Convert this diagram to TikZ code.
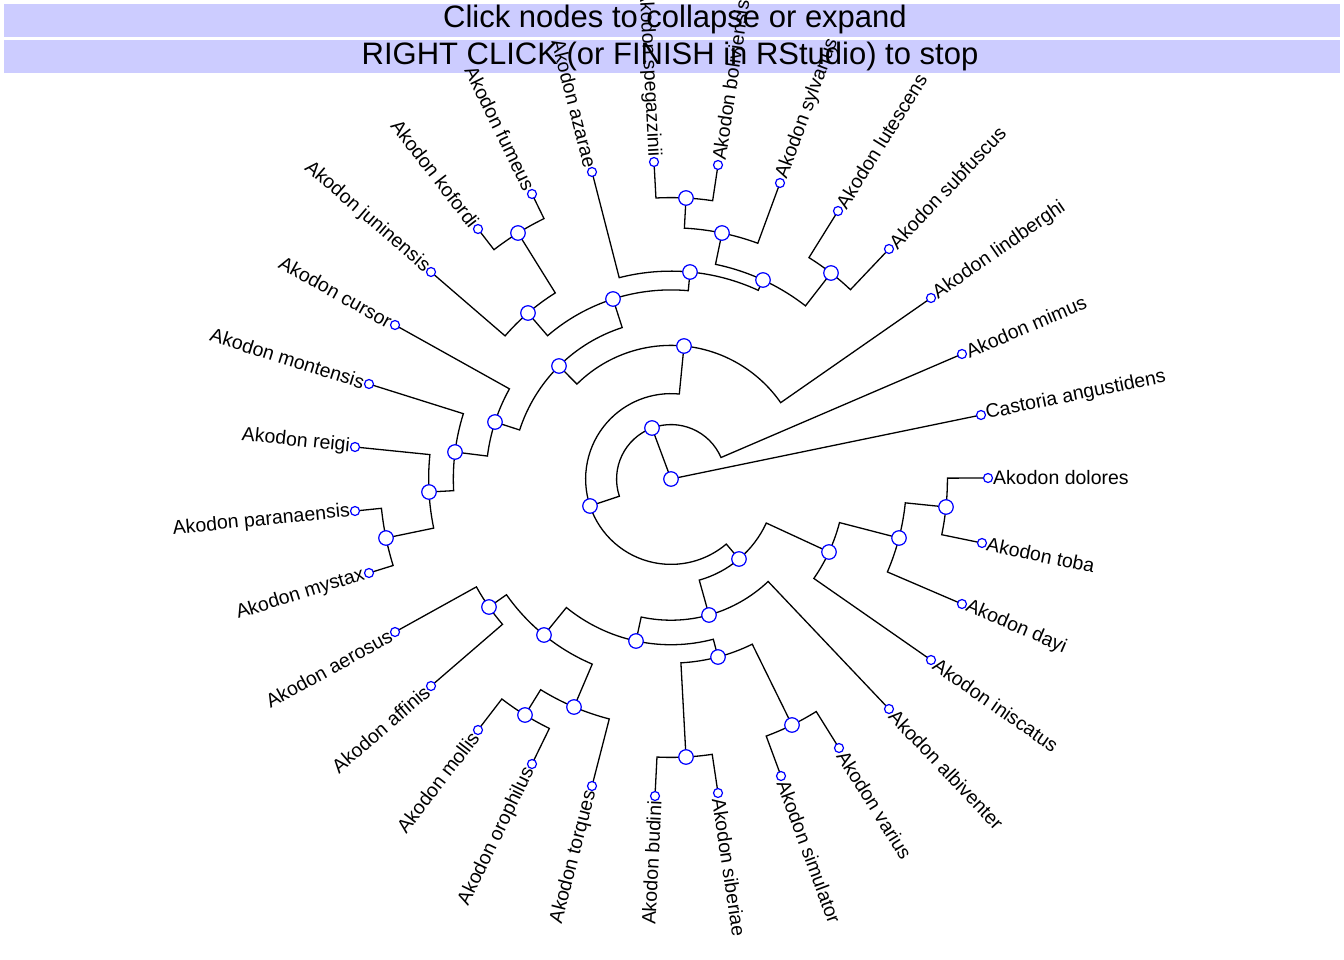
\documentclass[tikz,border=0pt]{standalone}
\usepackage{fontspec}
\setmainfont{Liberation Sans}
\usetikzlibrary{calc}
\definecolor{band}{RGB}{204,204,255}
\tikzset{
  edge/.style={draw=black,line width=1.3pt},
  inode/.style={circle,draw=blue,fill=white,line width=1.2pt,minimum size=14.5pt,inner sep=0pt},
  tnode/.style={circle,draw=blue,fill=white,line width=1.2pt,minimum size=9pt,inner sep=0pt},
  lab/.style={font=\fontsize{19.5}{21}\selectfont,inner sep=5pt}
}
% \edg{parent}{child}
\newcommand\edg[2]{%
  \draw[edge] let \p1=($(#2)-(C)$), \p2=($(#1)-(C)$),
    \n1={atan2(\y1,\x1)}, \n2={atan2(\y2,\x2)}, \n3={veclen(\x2,\y2)},
    \n4={mod(\n1-\n2+540,360)-180} in
    ($(C)+(\n2:\n3)$) arc[start angle=\n2, delta angle=\n4, radius=\n3]
    -- (#2.center);}
\newcommand\tip[4]{%
  \coordinate (#1) at (#2,-#3);
  \pgfmathsetmacro\ang{atan2(479-#3,#2-671)}%
  \pgfmathparse{abs(\ang)>90?1:0}%
  \ifnum\pgfmathresult=1
    \pgfmathsetmacro\rot{\ang-180}%
    \node[lab,anchor=east,rotate=\rot] at (#1) {#4};
  \else
    \node[lab,anchor=west,rotate=\ang] at (#1) {#4};
  \fi}
\newcommand\inn[3]{\coordinate (#1) at (#2,-#3);}
\begin{document}
\begin{tikzpicture}[x=1pt,y=1pt]
\useasboundingbox (0,0) rectangle (1344,-960);
\fill[band] (4,-4) rectangle (1340,-37);
\fill[band] (4,-40) rectangle (1340,-73);
\coordinate (C) at (671,-479);
% internal nodes
\inn{R}{671}{479}\inn{A}{652}{428}\inn{B}{590}{506}\inn{Cn}{684}{346}
\inn{D}{739}{559}\inn{E}{559}{366}\inn{F}{613}{299}\inn{G}{495}{422}
\inn{H}{690}{272}\inn{I}{528}{313}\inn{J}{763}{280}\inn{K}{722}{233}
\inn{L}{831}{273}\inn{M}{686}{198}\inn{N}{518}{233}\inn{O}{455}{452}
\inn{P}{429}{492}\inn{Q}{386}{538}\inn{S}{829}{552}\inn{T}{709}{615}
\inn{U}{899}{538}\inn{V}{636}{641}\inn{W}{718}{657}\inn{X}{544}{635}
\inn{Y}{946}{507}\inn{Z}{792}{725}\inn{AA}{686}{757}\inn{BB}{489}{607}
\inn{CC}{574}{707}\inn{DD}{525}{715}
% tips with labels
\tip{t1}{981}{415}{Castoria angustidens}
\tip{t2}{962}{354}{Akodon mimus}
\tip{t3}{931}{298}{Akodon lindberghi}
\tip{t4}{889}{249}{Akodon subfuscus}
\tip{t5}{838}{211}{Akodon lutescens}
\tip{t6}{780}{183}{Akodon sylvanus}
\tip{t7}{718}{165}{Akodon boliviensis}
\tip{t8}{654}{162}{Akodon spegazzinii}
\tip{t9}{592}{172}{Akodon azarae}
\tip{t10}{532}{194}{Akodon fumeus}
\tip{t11}{478}{229}{Akodon kofordi}
\tip{t12}{431}{272}{Akodon juninensis}
\tip{t13}{395}{325}{Akodon cursor}
\tip{t14}{369}{384}{Akodon montensis}
\tip{t15}{355}{447}{Akodon reigi}
\tip{t16}{355}{511}{Akodon paranaensis}
\tip{t17}{369}{573}{Akodon mystax}
\tip{t18}{395}{632}{Akodon aerosus}
\tip{t19}{431}{686}{Akodon affinis}
\tip{t20}{478}{730}{Akodon mollis}
\tip{t21}{532}{764}{Akodon orophilus}
\tip{t22}{592}{786}{Akodon torques}
\tip{t23}{655}{796}{Akodon budini}
\tip{t24}{718}{793}{Akodon siberiae}
\tip{t25}{781}{776}{Akodon simulator}
\tip{t26}{839}{748}{Akodon varius}
\tip{t27}{889}{709}{Akodon albiventer}
\tip{t28}{931}{660}{Akodon iniscatus}
\tip{t29}{962}{604}{Akodon dayi}
\tip{t30}{982}{543}{Akodon toba}
\tip{t31}{988}{478}{Akodon dolores}
% edges
\draw[edge] (R) -- (t1);
\draw[edge] (R) -- (A);
\edg{A}{t2}\edg{A}{B}
\edg{B}{Cn}\edg{B}{D}
\edg{Cn}{t3}\edg{Cn}{E}
\edg{E}{F}\edg{E}{G}
\edg{F}{H}\edg{F}{I}
\edg{H}{J}\edg{H}{t9}
\edg{J}{K}\edg{J}{L}
\edg{K}{M}\edg{K}{t6}
\edg{M}{t8}\edg{M}{t7}
\edg{L}{t5}\edg{L}{t4}
\edg{I}{N}\edg{I}{t12}
\edg{N}{t11}\edg{N}{t10}
\edg{G}{t13}\edg{G}{O}
\edg{O}{t14}\edg{O}{P}
\edg{P}{t15}\edg{P}{Q}
\edg{Q}{t16}\edg{Q}{t17}
\edg{D}{S}\edg{D}{T}
\edg{S}{U}\edg{S}{t28}
\edg{U}{Y}\edg{U}{t29}
\edg{Y}{t31}\edg{Y}{t30}
\edg{T}{t27}\edg{T}{V}
\edg{V}{W}\edg{V}{X}
\edg{W}{Z}\edg{W}{AA}
\edg{Z}{t25}\edg{Z}{t26}
\edg{AA}{t23}\edg{AA}{t24}
\edg{X}{BB}\edg{X}{CC}
\edg{BB}{t18}\edg{BB}{t19}
\edg{CC}{DD}\edg{CC}{t22}
\edg{DD}{t20}\edg{DD}{t21}
% node circles
\foreach \n in {R,A,B,Cn,D,E,F,G,H,I,J,K,L,M,N,O,P,Q,S,T,U,V,W,X,Y,Z,AA,BB,CC,DD}
  \node[inode] at (\n) {};
\foreach \i in {1,...,31}
  \node[tnode] at (t\i) {};
\node[font=\fontsize{31}{33}\selectfont,inner sep=0pt] (h1) at (675,-19) {Click nodes to collapse or expand};
\node[font=\fontsize{31}{33}\selectfont,inner sep=0pt] (h2) at (670,-56) {RIGHT CLICK (or FINISH in RStudio) to stop};
\end{tikzpicture}
\end{document}
